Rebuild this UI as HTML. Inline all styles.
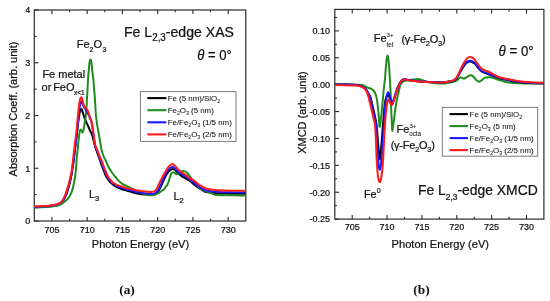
<!DOCTYPE html><html><head><meta charset="utf-8"><style>html,body{margin:0;padding:0;background:#fff;}svg{display:block;}</style></head><body><svg width="550" height="301" viewBox="0 0 550 301" font-family="'Liberation Sans', Arial, sans-serif" fill="#111111"><style>text{stroke:#111111;stroke-width:0.22px;}</style><rect width="550" height="301" fill="#fff"/><path d="M51.92 221.00 V217.00 M51.92 10.00 V14.00" stroke="#2a2a2a" stroke-width="1.1" fill="none"/><path d="M87.17 221.00 V217.00 M87.17 10.00 V14.00" stroke="#2a2a2a" stroke-width="1.1" fill="none"/><path d="M122.42 221.00 V217.00 M122.42 10.00 V14.00" stroke="#2a2a2a" stroke-width="1.1" fill="none"/><path d="M157.68 221.00 V217.00 M157.68 10.00 V14.00" stroke="#2a2a2a" stroke-width="1.1" fill="none"/><path d="M192.93 221.00 V217.00 M192.93 10.00 V14.00" stroke="#2a2a2a" stroke-width="1.1" fill="none"/><path d="M228.18 221.00 V217.00 M228.18 10.00 V14.00" stroke="#2a2a2a" stroke-width="1.1" fill="none"/><path d="M69.55 221.00 V218.70 M69.55 10.00 V12.30" stroke="#2a2a2a" stroke-width="1.1" fill="none"/><path d="M104.80 221.00 V218.70 M104.80 10.00 V12.30" stroke="#2a2a2a" stroke-width="1.1" fill="none"/><path d="M140.05 221.00 V218.70 M140.05 10.00 V12.30" stroke="#2a2a2a" stroke-width="1.1" fill="none"/><path d="M175.30 221.00 V218.70 M175.30 10.00 V12.30" stroke="#2a2a2a" stroke-width="1.1" fill="none"/><path d="M210.55 221.00 V218.70 M210.55 10.00 V12.30" stroke="#2a2a2a" stroke-width="1.1" fill="none"/><path d="M34.30 221.00 H38.50" stroke="#2a2a2a" stroke-width="1.1"/><path d="M34.30 168.25 H38.50" stroke="#2a2a2a" stroke-width="1.1"/><path d="M34.30 115.50 H38.50" stroke="#2a2a2a" stroke-width="1.1"/><path d="M34.30 62.75 H38.50" stroke="#2a2a2a" stroke-width="1.1"/><path d="M34.30 10.00 H38.50" stroke="#2a2a2a" stroke-width="1.1"/><path d="M34.30 194.62 H36.60" stroke="#2a2a2a" stroke-width="1.1"/><path d="M34.30 141.88 H36.60" stroke="#2a2a2a" stroke-width="1.1"/><path d="M34.30 89.12 H36.60" stroke="#2a2a2a" stroke-width="1.1"/><path d="M34.30 36.38 H36.60" stroke="#2a2a2a" stroke-width="1.1"/><rect x="34.30" y="10.00" width="211.50" height="211.00" fill="none" stroke="#2a2a2a" stroke-width="1.2"/><text x="51.92" y="232.60" font-size="9" text-anchor="middle">705</text><text x="87.17" y="232.60" font-size="9" text-anchor="middle">710</text><text x="122.42" y="232.60" font-size="9" text-anchor="middle">715</text><text x="157.68" y="232.60" font-size="9" text-anchor="middle">720</text><text x="192.93" y="232.60" font-size="9" text-anchor="middle">725</text><text x="228.18" y="232.60" font-size="9" text-anchor="middle">730</text><text x="30.20" y="224.30" font-size="9" text-anchor="end">0</text><text x="30.20" y="171.55" font-size="9" text-anchor="end">1</text><text x="30.20" y="118.80" font-size="9" text-anchor="end">2</text><text x="30.20" y="66.05" font-size="9" text-anchor="end">3</text><text x="30.20" y="13.30" font-size="9" text-anchor="end">4</text><path d="M352.23 219.10 V215.10 M352.23 9.40 V13.40" stroke="#2a2a2a" stroke-width="1.1" fill="none"/><path d="M387.07 219.10 V215.10 M387.07 9.40 V13.40" stroke="#2a2a2a" stroke-width="1.1" fill="none"/><path d="M421.93 219.10 V215.10 M421.93 9.40 V13.40" stroke="#2a2a2a" stroke-width="1.1" fill="none"/><path d="M456.77 219.10 V215.10 M456.77 9.40 V13.40" stroke="#2a2a2a" stroke-width="1.1" fill="none"/><path d="M491.62 219.10 V215.10 M491.62 9.40 V13.40" stroke="#2a2a2a" stroke-width="1.1" fill="none"/><path d="M526.48 219.10 V215.10 M526.48 9.40 V13.40" stroke="#2a2a2a" stroke-width="1.1" fill="none"/><path d="M369.65 219.10 V216.80 M369.65 9.40 V11.70" stroke="#2a2a2a" stroke-width="1.1" fill="none"/><path d="M404.50 219.10 V216.80 M404.50 9.40 V11.70" stroke="#2a2a2a" stroke-width="1.1" fill="none"/><path d="M439.35 219.10 V216.80 M439.35 9.40 V11.70" stroke="#2a2a2a" stroke-width="1.1" fill="none"/><path d="M474.20 219.10 V216.80 M474.20 9.40 V11.70" stroke="#2a2a2a" stroke-width="1.1" fill="none"/><path d="M509.05 219.10 V216.80 M509.05 9.40 V11.70" stroke="#2a2a2a" stroke-width="1.1" fill="none"/><path d="M334.80 219.10 H339.00" stroke="#2a2a2a" stroke-width="1.1"/><path d="M334.80 192.22 H339.00" stroke="#2a2a2a" stroke-width="1.1"/><path d="M334.80 165.33 H339.00" stroke="#2a2a2a" stroke-width="1.1"/><path d="M334.80 138.45 H339.00" stroke="#2a2a2a" stroke-width="1.1"/><path d="M334.80 111.56 H339.00" stroke="#2a2a2a" stroke-width="1.1"/><path d="M334.80 84.68 H339.00" stroke="#2a2a2a" stroke-width="1.1"/><path d="M334.80 57.79 H339.00" stroke="#2a2a2a" stroke-width="1.1"/><path d="M334.80 30.91 H339.00" stroke="#2a2a2a" stroke-width="1.1"/><path d="M334.80 205.66 H337.10" stroke="#2a2a2a" stroke-width="1.1"/><path d="M334.80 178.77 H337.10" stroke="#2a2a2a" stroke-width="1.1"/><path d="M334.80 151.89 H337.10" stroke="#2a2a2a" stroke-width="1.1"/><path d="M334.80 125.00 H337.10" stroke="#2a2a2a" stroke-width="1.1"/><path d="M334.80 98.12 H337.10" stroke="#2a2a2a" stroke-width="1.1"/><path d="M334.80 71.23 H337.10" stroke="#2a2a2a" stroke-width="1.1"/><path d="M334.80 44.35 H337.10" stroke="#2a2a2a" stroke-width="1.1"/><path d="M334.80 17.47 H337.10" stroke="#2a2a2a" stroke-width="1.1"/><rect x="334.80" y="9.40" width="209.10" height="209.70" fill="none" stroke="#2a2a2a" stroke-width="1.2"/><text x="352.23" y="230.20" font-size="9" text-anchor="middle">705</text><text x="387.07" y="230.20" font-size="9" text-anchor="middle">710</text><text x="421.93" y="230.20" font-size="9" text-anchor="middle">715</text><text x="456.77" y="230.20" font-size="9" text-anchor="middle">720</text><text x="491.62" y="230.20" font-size="9" text-anchor="middle">725</text><text x="526.48" y="230.20" font-size="9" text-anchor="middle">730</text><text x="330.00" y="222.40" font-size="9" text-anchor="end">-0.25</text><text x="330.00" y="195.52" font-size="9" text-anchor="end">-0.20</text><text x="330.00" y="168.63" font-size="9" text-anchor="end">-0.15</text><text x="330.00" y="141.75" font-size="9" text-anchor="end">-0.10</text><text x="330.00" y="114.86" font-size="9" text-anchor="end">-0.05</text><text x="330.00" y="87.98" font-size="9" text-anchor="end">0.00</text><text x="330.00" y="61.09" font-size="9" text-anchor="end">0.05</text><text x="330.00" y="34.21" font-size="9" text-anchor="end">0.10</text><text x="140.5" y="247.7" font-size="11.1" text-anchor="middle">Photon Energy (eV)</text><text x="440.3" y="247.7" font-size="11.1" text-anchor="middle">Photon Energy (eV)</text><text transform="translate(16.5,109) rotate(-90)" font-size="11" text-anchor="middle">Absorption Coeff. (arb. unit)</text><text transform="translate(306.3,112.6) rotate(-90)" font-size="11" text-anchor="middle">XMCD (arb. unit)</text><defs><clipPath id="cl"><rect x="34.30" y="10.00" width="211.50" height="211.00"/></clipPath><clipPath id="cr"><rect x="334.80" y="9.40" width="209.10" height="209.70"/></clipPath></defs><path d="M34.50 207.30 C36.83 207.18 45.08 206.92 48.50 206.60 C51.92 206.28 53.42 205.73 55.00 205.40 C56.58 205.07 57.00 205.02 58.00 204.60 C59.00 204.18 60.12 203.62 61.00 202.90 C61.88 202.18 62.57 201.40 63.30 200.30 C64.03 199.20 64.80 197.58 65.40 196.30 C66.00 195.02 66.43 193.93 66.90 192.60 C67.37 191.27 67.77 189.77 68.20 188.30 C68.63 186.83 69.08 185.38 69.50 183.80 C69.92 182.22 70.32 180.55 70.70 178.80 C71.08 177.05 71.45 175.38 71.80 173.30 C72.15 171.22 72.48 168.47 72.80 166.30 C73.12 164.13 73.30 163.35 73.70 160.30 C74.10 157.25 74.65 152.55 75.20 148.00 C75.75 143.45 76.45 137.67 77.00 133.00 C77.55 128.33 78.03 123.50 78.50 120.00 C78.97 116.50 79.45 113.67 79.80 112.00 C80.15 110.33 80.35 110.50 80.60 110.00 C80.85 109.50 81.02 108.87 81.30 109.00 C81.58 109.13 81.85 109.55 82.30 110.80 C82.75 112.05 83.38 114.72 84.00 116.50 C84.62 118.28 85.25 119.75 86.00 121.50 C86.75 123.25 87.75 125.33 88.50 127.00 C89.25 128.67 89.87 130.08 90.50 131.50 C91.13 132.92 91.55 133.08 92.30 135.50 C93.05 137.92 94.22 143.28 95.00 146.00 C95.78 148.72 96.22 149.55 97.00 151.80 C97.78 154.05 99.03 157.55 99.70 159.50 C100.37 161.45 100.50 162.07 101.00 163.50 C101.50 164.93 102.12 166.60 102.70 168.10 C103.28 169.60 103.93 171.13 104.50 172.50 C105.07 173.87 105.52 175.18 106.10 176.30 C106.68 177.42 107.42 178.33 108.00 179.20 C108.58 180.07 108.93 180.73 109.60 181.50 C110.27 182.27 111.22 183.12 112.00 183.80 C112.78 184.48 113.47 185.05 114.30 185.60 C115.13 186.15 116.03 186.62 117.00 187.10 C117.97 187.58 118.93 188.03 120.10 188.50 C121.27 188.97 122.68 189.48 124.00 189.90 C125.32 190.32 126.75 190.65 128.00 191.00 C129.25 191.35 130.33 191.67 131.50 192.00 C132.67 192.33 133.58 192.68 135.00 193.00 C136.42 193.32 138.50 193.67 140.00 193.90 C141.50 194.13 142.67 194.27 144.00 194.40 C145.33 194.53 146.92 194.62 148.00 194.70 C149.08 194.78 149.67 194.90 150.50 194.90 C151.33 194.90 152.17 194.87 153.00 194.70 C153.83 194.53 154.75 194.30 155.50 193.90 C156.25 193.50 156.87 193.02 157.50 192.30 C158.13 191.58 158.72 190.62 159.30 189.60 C159.88 188.58 160.47 187.33 161.00 186.20 C161.53 185.07 162.08 183.75 162.50 182.80 C162.92 181.85 162.92 181.70 163.50 180.50 C164.08 179.30 165.25 176.97 166.00 175.60 C166.75 174.23 167.33 173.20 168.00 172.30 C168.67 171.40 169.18 170.75 170.00 170.20 C170.82 169.65 172.10 169.07 172.90 169.00 C173.70 168.93 174.18 169.37 174.80 169.80 C175.42 170.23 175.90 170.90 176.60 171.60 C177.30 172.30 178.12 173.22 179.00 174.00 C179.88 174.78 180.97 175.67 181.90 176.30 C182.83 176.93 183.75 177.32 184.60 177.80 C185.45 178.28 186.12 178.68 187.00 179.20 C187.88 179.72 188.73 180.02 189.90 180.90 C191.07 181.78 192.65 183.40 194.00 184.50 C195.35 185.60 196.67 186.58 198.00 187.50 C199.33 188.42 200.67 189.25 202.00 190.00 C203.33 190.75 203.83 191.48 206.00 192.00 C208.17 192.52 211.00 192.82 215.00 193.10 C219.00 193.38 224.83 193.58 230.00 193.70 C235.17 193.82 243.33 193.78 246.00 193.80" fill="none" stroke="#000000" stroke-width="2.00" stroke-linejoin="round" stroke-linecap="round" clip-path="url(#cl)"/><path d="M34.50 207.50 C36.83 207.38 44.58 207.15 48.50 206.80 C52.42 206.45 55.92 205.83 58.00 205.40 C60.08 204.97 60.12 204.67 61.00 204.20 C61.88 203.73 62.47 203.20 63.30 202.60 C64.13 202.00 65.12 201.38 66.00 200.60 C66.88 199.82 67.85 198.92 68.60 197.90 C69.35 196.88 69.95 195.60 70.50 194.50 C71.05 193.40 71.48 192.47 71.90 191.30 C72.32 190.13 72.67 188.83 73.00 187.50 C73.33 186.17 73.57 185.05 73.90 183.30 C74.23 181.55 74.67 179.22 75.00 177.00 C75.33 174.78 75.63 172.83 75.90 170.00 C76.17 167.17 76.32 163.33 76.60 160.00 C76.88 156.67 77.27 153.33 77.60 150.00 C77.93 146.67 78.27 143.00 78.60 140.00 C78.93 137.00 79.27 133.75 79.60 132.00 C79.93 130.25 80.27 129.70 80.60 129.50 C80.93 129.30 81.27 130.30 81.60 130.80 C81.93 131.30 82.27 132.63 82.60 132.50 C82.93 132.37 83.28 131.42 83.60 130.00 C83.92 128.58 84.15 126.17 84.50 124.00 C84.85 121.83 85.35 120.17 85.70 117.00 C86.05 113.83 86.32 109.17 86.60 105.00 C86.88 100.83 87.17 96.17 87.40 92.00 C87.63 87.83 87.77 83.67 88.00 80.00 C88.23 76.33 88.53 73.00 88.80 70.00 C89.07 67.00 89.32 63.75 89.60 62.00 C89.88 60.25 90.20 59.50 90.50 59.50 C90.80 59.50 91.12 60.25 91.40 62.00 C91.68 63.75 91.87 67.00 92.20 70.00 C92.53 73.00 93.07 76.67 93.40 80.00 C93.73 83.33 93.93 86.67 94.20 90.00 C94.47 93.33 94.75 96.33 95.00 100.00 C95.25 103.67 95.45 108.67 95.70 112.00 C95.95 115.33 96.20 117.50 96.50 120.00 C96.80 122.50 97.08 124.50 97.50 127.00 C97.92 129.50 98.55 132.50 99.00 135.00 C99.45 137.50 99.77 139.50 100.20 142.00 C100.63 144.50 101.05 147.67 101.60 150.00 C102.15 152.33 102.83 154.28 103.50 156.00 C104.17 157.72 104.77 158.47 105.60 160.30 C106.43 162.13 107.63 165.25 108.50 167.00 C109.37 168.75 110.03 169.63 110.80 170.80 C111.57 171.97 112.32 172.97 113.10 174.00 C113.88 175.03 114.72 176.03 115.50 177.00 C116.28 177.97 117.05 178.97 117.80 179.80 C118.55 180.63 119.23 181.33 120.00 182.00 C120.77 182.67 121.57 183.27 122.40 183.80 C123.23 184.33 124.07 184.73 125.00 185.20 C125.93 185.67 126.83 186.03 128.00 186.60 C129.17 187.17 130.67 187.92 132.00 188.60 C133.33 189.28 134.67 190.05 136.00 190.70 C137.33 191.35 138.67 191.97 140.00 192.50 C141.33 193.03 142.83 193.52 144.00 193.90 C145.17 194.28 146.00 194.57 147.00 194.80 C148.00 195.03 149.08 195.22 150.00 195.30 C150.92 195.38 151.72 195.38 152.50 195.30 C153.28 195.22 153.95 195.03 154.70 194.80 C155.45 194.57 156.30 194.23 157.00 193.90 C157.70 193.57 158.28 193.18 158.90 192.80 C159.52 192.42 160.10 192.02 160.70 191.60 C161.30 191.18 161.80 190.83 162.50 190.30 C163.20 189.77 164.40 188.98 164.90 188.40 C165.40 187.82 165.10 187.38 165.50 186.80 C165.90 186.22 166.75 185.87 167.30 184.90 C167.85 183.93 168.35 182.32 168.80 181.00 C169.25 179.68 169.58 178.23 170.00 177.00 C170.42 175.77 170.75 174.38 171.30 173.60 C171.85 172.82 172.68 172.37 173.30 172.30 C173.92 172.23 174.45 172.87 175.00 173.20 C175.55 173.53 176.00 174.23 176.60 174.30 C177.20 174.37 177.87 173.98 178.60 173.60 C179.33 173.22 180.23 172.43 181.00 172.00 C181.77 171.57 182.53 171.10 183.20 171.00 C183.87 170.90 184.45 171.18 185.00 171.40 C185.55 171.62 185.92 171.78 186.50 172.30 C187.08 172.82 187.93 173.83 188.50 174.50 C189.07 175.17 189.32 175.38 189.90 176.30 C190.48 177.22 190.98 178.63 192.00 180.00 C193.02 181.37 194.67 183.08 196.00 184.50 C197.33 185.92 198.50 187.42 200.00 188.50 C201.50 189.58 203.33 190.33 205.00 191.00 C206.67 191.67 208.33 191.88 210.00 192.50 C211.67 193.12 211.67 194.25 215.00 194.70 C218.33 195.15 224.83 195.08 230.00 195.20 C235.17 195.32 243.33 195.37 246.00 195.40" fill="none" stroke="#1e8c1e" stroke-width="2.00" stroke-linejoin="round" stroke-linecap="round" clip-path="url(#cl)"/><path d="M34.50 206.80 C36.83 206.67 45.08 206.30 48.50 206.00 C51.92 205.70 53.42 205.28 55.00 205.00 C56.58 204.72 57.00 204.70 58.00 204.30 C59.00 203.90 60.13 203.32 61.00 202.60 C61.87 201.88 62.48 201.10 63.20 200.00 C63.92 198.90 64.70 197.28 65.30 196.00 C65.90 194.72 66.33 193.63 66.80 192.30 C67.27 190.97 67.67 189.47 68.10 188.00 C68.53 186.53 68.98 185.08 69.40 183.50 C69.82 181.92 70.22 180.25 70.60 178.50 C70.98 176.75 71.35 175.08 71.70 173.00 C72.05 170.92 72.38 168.17 72.70 166.00 C73.02 163.83 73.18 163.17 73.60 160.00 C74.02 156.83 74.60 152.00 75.20 147.00 C75.80 142.00 76.65 135.00 77.20 130.00 C77.75 125.00 78.08 120.83 78.50 117.00 C78.92 113.17 79.37 109.33 79.70 107.00 C80.03 104.67 80.25 103.92 80.50 103.00 C80.75 102.08 80.95 101.58 81.20 101.50 C81.45 101.42 81.60 101.75 82.00 102.50 C82.40 103.25 83.02 104.83 83.60 106.00 C84.18 107.17 84.85 108.42 85.50 109.50 C86.15 110.58 86.77 111.08 87.50 112.50 C88.23 113.92 89.15 116.00 89.90 118.00 C90.65 120.00 91.15 120.00 92.00 124.50 C92.85 129.00 94.17 140.63 95.00 145.00 C95.83 149.37 96.27 148.62 97.00 150.70 C97.73 152.78 98.73 155.65 99.40 157.50 C100.07 159.35 100.40 160.18 101.00 161.80 C101.60 163.42 102.33 165.53 103.00 167.20 C103.67 168.87 104.37 170.40 105.00 171.80 C105.63 173.20 106.20 174.47 106.80 175.60 C107.40 176.73 108.02 177.70 108.60 178.60 C109.18 179.50 109.65 180.27 110.30 181.00 C110.95 181.73 111.72 182.37 112.50 183.00 C113.28 183.63 114.08 184.25 115.00 184.80 C115.92 185.35 117.00 185.85 118.00 186.30 C119.00 186.75 119.83 187.08 121.00 187.50 C122.17 187.92 123.67 188.40 125.00 188.80 C126.33 189.20 127.83 189.57 129.00 189.90 C130.17 190.23 131.00 190.48 132.00 190.80 C133.00 191.12 133.67 191.50 135.00 191.80 C136.33 192.10 138.50 192.37 140.00 192.60 C141.50 192.83 142.67 193.02 144.00 193.20 C145.33 193.38 146.72 193.58 148.00 193.70 C149.28 193.82 150.70 193.92 151.70 193.90 C152.70 193.88 153.30 193.78 154.00 193.60 C154.70 193.42 155.32 193.20 155.90 192.80 C156.48 192.40 157.00 191.83 157.50 191.20 C158.00 190.57 158.43 189.90 158.90 189.00 C159.37 188.10 159.82 186.92 160.30 185.80 C160.78 184.68 161.30 183.47 161.80 182.30 C162.30 181.13 162.60 180.25 163.30 178.80 C164.00 177.35 165.22 175.03 166.00 173.60 C166.78 172.17 167.33 171.13 168.00 170.20 C168.67 169.27 169.23 168.53 170.00 168.00 C170.77 167.47 171.85 167.00 172.60 167.00 C173.35 167.00 173.83 167.45 174.50 168.00 C175.17 168.55 175.85 169.55 176.60 170.30 C177.35 171.05 178.12 171.83 179.00 172.50 C179.88 173.17 180.97 173.75 181.90 174.30 C182.83 174.85 183.75 175.27 184.60 175.80 C185.45 176.33 186.12 176.87 187.00 177.50 C187.88 178.13 188.73 178.77 189.90 179.60 C191.07 180.43 192.65 181.43 194.00 182.50 C195.35 183.57 196.67 185.00 198.00 186.00 C199.33 187.00 200.67 187.75 202.00 188.50 C203.33 189.25 203.83 189.95 206.00 190.50 C208.17 191.05 211.00 191.50 215.00 191.80 C219.00 192.10 224.83 192.20 230.00 192.30 C235.17 192.40 243.33 192.38 246.00 192.40" fill="none" stroke="#1a1aff" stroke-width="2.00" stroke-linejoin="round" stroke-linecap="round" clip-path="url(#cl)"/><path d="M34.50 206.60 C35.58 206.53 38.67 206.33 41.00 206.20 C43.33 206.07 46.17 206.03 48.50 205.80 C50.83 205.57 53.42 205.12 55.00 204.80 C56.58 204.48 57.08 204.27 58.00 203.90 C58.92 203.53 59.75 203.17 60.50 202.60 C61.25 202.03 61.82 201.50 62.50 200.50 C63.18 199.50 64.02 197.88 64.60 196.60 C65.18 195.32 65.55 194.13 66.00 192.80 C66.45 191.47 66.85 190.07 67.30 188.60 C67.75 187.13 68.27 185.55 68.70 184.00 C69.13 182.45 69.52 180.88 69.90 179.30 C70.28 177.72 70.67 176.05 71.00 174.50 C71.33 172.95 71.58 172.25 71.90 170.00 C72.22 167.75 72.47 164.83 72.90 161.00 C73.33 157.17 73.88 152.17 74.50 147.00 C75.12 141.83 76.05 135.00 76.60 130.00 C77.15 125.00 77.40 121.00 77.80 117.00 C78.20 113.00 78.63 108.92 79.00 106.00 C79.37 103.08 79.67 100.95 80.00 99.50 C80.33 98.05 80.67 97.47 81.00 97.30 C81.33 97.13 81.57 97.30 82.00 98.50 C82.43 99.70 83.10 103.00 83.60 104.50 C84.10 106.00 84.52 106.75 85.00 107.50 C85.48 108.25 86.00 108.33 86.50 109.00 C87.00 109.67 87.43 110.17 88.00 111.50 C88.57 112.83 89.23 115.00 89.90 117.00 C90.57 119.00 91.15 119.00 92.00 123.50 C92.85 128.00 94.17 139.67 95.00 144.00 C95.83 148.33 96.33 147.67 97.00 149.50 C97.67 151.33 98.25 153.17 99.00 155.00 C99.75 156.83 100.70 158.53 101.50 160.50 C102.30 162.47 103.13 165.02 103.80 166.80 C104.47 168.58 104.92 169.78 105.50 171.20 C106.08 172.62 106.72 174.12 107.30 175.30 C107.88 176.48 108.38 177.38 109.00 178.30 C109.62 179.22 110.33 180.08 111.00 180.80 C111.67 181.52 112.27 182.07 113.00 182.60 C113.73 183.13 114.57 183.53 115.40 184.00 C116.23 184.47 116.90 184.93 118.00 185.40 C119.10 185.87 120.75 186.40 122.00 186.80 C123.25 187.20 124.33 187.50 125.50 187.80 C126.67 188.10 127.75 188.30 129.00 188.60 C130.25 188.90 131.67 189.30 133.00 189.60 C134.33 189.90 135.75 190.18 137.00 190.40 C138.25 190.62 139.33 190.75 140.50 190.90 C141.67 191.05 142.75 191.17 144.00 191.30 C145.25 191.43 146.72 191.60 148.00 191.70 C149.28 191.80 150.78 191.92 151.70 191.90 C152.62 191.88 153.00 191.75 153.50 191.60 C154.00 191.45 154.28 191.30 154.70 191.00 C155.12 190.70 155.60 190.30 156.00 189.80 C156.40 189.30 156.68 188.77 157.10 188.00 C157.52 187.23 157.97 186.32 158.50 185.20 C159.03 184.08 159.75 182.45 160.30 181.30 C160.85 180.15 161.30 179.28 161.80 178.30 C162.30 177.32 162.60 176.62 163.30 175.40 C164.00 174.18 165.22 172.30 166.00 171.00 C166.78 169.70 167.33 168.57 168.00 167.60 C168.67 166.63 169.23 165.77 170.00 165.20 C170.77 164.63 171.85 164.18 172.60 164.20 C173.35 164.22 173.83 164.73 174.50 165.30 C175.17 165.87 175.92 166.85 176.60 167.60 C177.28 168.35 177.93 169.13 178.60 169.80 C179.27 170.47 179.93 171.07 180.60 171.60 C181.27 172.13 181.93 172.55 182.60 173.00 C183.27 173.45 183.87 173.80 184.60 174.30 C185.33 174.80 186.12 175.33 187.00 176.00 C187.88 176.67 188.73 177.55 189.90 178.30 C191.07 179.05 192.65 179.55 194.00 180.50 C195.35 181.45 196.67 183.00 198.00 184.00 C199.33 185.00 200.67 185.75 202.00 186.50 C203.33 187.25 203.83 187.90 206.00 188.50 C208.17 189.10 211.00 189.73 215.00 190.10 C219.00 190.47 224.83 190.58 230.00 190.70 C235.17 190.82 243.33 190.78 246.00 190.80" fill="none" stroke="#ff1a1a" stroke-width="2.00" stroke-linejoin="round" stroke-linecap="round" clip-path="url(#cl)"/><path d="M335.00 84.40 C337.83 84.43 348.17 84.53 352.00 84.60 C355.83 84.67 356.33 84.72 358.00 84.80 C359.67 84.88 361.00 84.97 362.00 85.10 C363.00 85.23 363.33 85.32 364.00 85.60 C364.67 85.88 365.33 86.43 366.00 86.80 C366.67 87.17 367.33 87.57 368.00 87.80 C368.67 88.03 369.33 87.95 370.00 88.20 C370.67 88.45 371.42 88.92 372.00 89.30 C372.58 89.68 373.03 89.97 373.50 90.50 C373.97 91.03 374.38 91.67 374.80 92.50 C375.22 93.33 375.63 94.25 376.00 95.50 C376.37 96.75 376.67 97.92 377.00 100.00 C377.33 102.08 377.68 104.83 378.00 108.00 C378.32 111.17 378.63 115.87 378.90 119.00 C379.17 122.13 379.33 126.30 379.60 126.80 C379.87 127.30 380.23 123.80 380.50 122.00 C380.77 120.20 380.97 118.00 381.20 116.00 C381.43 114.00 381.65 112.50 381.90 110.00 C382.15 107.50 382.43 104.00 382.70 101.00 C382.97 98.00 383.22 94.83 383.50 92.00 C383.78 89.17 384.12 86.67 384.40 84.00 C384.68 81.33 384.95 78.83 385.20 76.00 C385.45 73.17 385.67 69.75 385.90 67.00 C386.13 64.25 386.35 61.40 386.60 59.50 C386.85 57.60 387.13 55.88 387.40 55.60 C387.67 55.32 387.93 56.23 388.20 57.80 C388.47 59.37 388.77 62.13 389.00 65.00 C389.23 67.87 389.40 71.83 389.60 75.00 C389.80 78.17 390.03 81.00 390.20 84.00 C390.37 87.00 390.47 89.67 390.60 93.00 C390.73 96.33 390.85 100.17 391.00 104.00 C391.15 107.83 391.35 112.67 391.50 116.00 C391.65 119.33 391.77 121.53 391.90 124.00 C392.03 126.47 392.08 130.47 392.30 130.80 C392.52 131.13 392.88 128.13 393.20 126.00 C393.52 123.87 393.87 120.67 394.20 118.00 C394.53 115.33 394.77 113.00 395.20 110.00 C395.63 107.00 396.27 102.83 396.80 100.00 C397.33 97.17 397.78 95.58 398.40 93.00 C399.02 90.42 399.82 86.33 400.50 84.50 C401.18 82.67 401.75 82.60 402.50 82.00 C403.25 81.40 403.92 81.18 405.00 80.90 C406.08 80.62 407.67 80.52 409.00 80.30 C410.33 80.08 411.55 79.80 413.00 79.60 C414.45 79.40 416.37 79.10 417.70 79.10 C419.03 79.10 419.78 79.28 421.00 79.60 C422.22 79.92 423.50 80.52 425.00 81.00 C426.50 81.48 428.17 82.12 430.00 82.50 C431.83 82.88 434.25 83.12 436.00 83.30 C437.75 83.48 439.00 83.58 440.50 83.60 C442.00 83.62 443.58 83.53 445.00 83.40 C446.42 83.27 447.67 83.07 449.00 82.80 C450.33 82.53 451.90 82.07 453.00 81.80 C454.10 81.53 454.85 81.53 455.60 81.20 C456.35 80.87 456.83 80.35 457.50 79.80 C458.17 79.25 458.93 78.27 459.60 77.90 C460.27 77.53 460.83 77.50 461.50 77.60 C462.17 77.70 462.93 78.43 463.60 78.50 C464.27 78.57 464.83 78.32 465.50 78.00 C466.17 77.68 466.93 77.00 467.60 76.60 C468.27 76.20 468.83 75.83 469.50 75.60 C470.17 75.37 470.97 75.05 471.60 75.20 C472.23 75.35 472.73 75.95 473.30 76.50 C473.87 77.05 474.47 77.87 475.00 78.50 C475.53 79.13 475.90 79.78 476.50 80.30 C477.10 80.82 477.93 81.45 478.60 81.60 C479.27 81.75 479.93 81.48 480.50 81.20 C481.07 80.92 481.45 80.35 482.00 79.90 C482.55 79.45 483.25 78.88 483.80 78.50 C484.35 78.12 484.27 77.82 485.30 77.60 C486.33 77.38 488.63 77.13 490.00 77.20 C491.37 77.27 492.40 77.67 493.50 78.00 C494.60 78.33 495.52 78.83 496.60 79.20 C497.68 79.57 498.90 79.87 500.00 80.20 C501.10 80.53 502.03 80.88 503.20 81.20 C504.37 81.52 505.87 81.87 507.00 82.10 C508.13 82.33 508.33 82.40 510.00 82.60 C511.67 82.80 513.67 83.15 517.00 83.30 C520.33 83.45 525.50 83.47 530.00 83.50 C534.50 83.53 541.67 83.50 544.00 83.50" fill="none" stroke="#1e8c1e" stroke-width="2.00" stroke-linejoin="round" stroke-linecap="round" clip-path="url(#cr)"/><path d="M335.00 84.50 C336.67 84.52 342.17 84.55 345.00 84.60 C347.83 84.65 350.17 84.72 352.00 84.80 C353.83 84.88 354.83 84.97 356.00 85.10 C357.17 85.23 358.17 85.42 359.00 85.60 C359.83 85.78 360.33 85.95 361.00 86.20 C361.67 86.45 362.33 86.72 363.00 87.10 C363.67 87.48 364.42 87.98 365.00 88.50 C365.58 89.02 366.00 89.48 366.50 90.20 C367.00 90.92 367.33 91.58 368.00 92.80 C368.67 94.02 369.83 95.72 370.50 97.50 C371.17 99.28 371.50 101.42 372.00 103.50 C372.50 105.58 372.95 107.58 373.50 110.00 C374.05 112.42 374.75 115.17 375.30 118.00 C375.85 120.83 376.38 123.33 376.80 127.00 C377.22 130.67 377.48 136.17 377.80 140.00 C378.12 143.83 378.45 147.33 378.70 150.00 C378.95 152.67 379.12 154.45 379.30 156.00 C379.48 157.55 379.63 159.30 379.80 159.30 C379.97 159.30 380.10 157.55 380.30 156.00 C380.50 154.45 380.75 152.67 381.00 150.00 C381.25 147.33 381.52 143.67 381.80 140.00 C382.08 136.33 382.40 131.83 382.70 128.00 C383.00 124.17 383.30 120.50 383.60 117.00 C383.90 113.50 384.18 109.83 384.50 107.00 C384.82 104.17 385.15 101.75 385.50 100.00 C385.85 98.25 386.25 97.25 386.60 96.50 C386.95 95.75 387.32 95.67 387.60 95.50 C387.88 95.33 388.03 95.28 388.30 95.50 C388.57 95.72 388.85 96.05 389.20 96.80 C389.55 97.55 390.00 98.88 390.40 100.00 C390.80 101.12 391.27 102.92 391.60 103.50 C391.93 104.08 392.08 103.92 392.40 103.50 C392.72 103.08 392.98 102.50 393.50 101.00 C394.02 99.50 394.83 96.58 395.50 94.50 C396.17 92.42 396.83 90.28 397.50 88.50 C398.17 86.72 398.92 85.00 399.50 83.80 C400.08 82.60 400.50 81.95 401.00 81.30 C401.50 80.65 401.97 80.22 402.50 79.90 C403.03 79.58 403.62 79.43 404.20 79.40 C404.78 79.37 405.03 79.53 406.00 79.70 C406.97 79.87 408.80 80.22 410.00 80.40 C411.20 80.58 411.15 80.58 413.20 80.80 C415.25 81.02 419.27 81.48 422.30 81.70 C425.33 81.92 428.45 82.00 431.40 82.10 C434.35 82.20 437.73 82.28 440.00 82.30 C442.27 82.32 443.50 82.32 445.00 82.20 C446.50 82.08 447.67 81.82 449.00 81.60 C450.33 81.38 451.92 81.25 453.00 80.90 C454.08 80.55 454.83 80.03 455.50 79.50 C456.17 78.97 456.50 78.40 457.00 77.70 C457.50 77.00 458.00 76.18 458.50 75.30 C459.00 74.42 459.42 73.45 460.00 72.40 C460.58 71.35 461.33 70.10 462.00 69.00 C462.67 67.90 463.33 66.75 464.00 65.80 C464.67 64.85 465.33 63.93 466.00 63.30 C466.67 62.67 467.25 62.28 468.00 62.00 C468.75 61.72 469.75 61.55 470.50 61.60 C471.25 61.65 471.70 61.90 472.50 62.30 C473.30 62.70 474.38 63.10 475.30 64.00 C476.22 64.90 477.12 66.60 478.00 67.70 C478.88 68.80 479.77 69.85 480.60 70.60 C481.43 71.35 482.10 71.77 483.00 72.20 C483.90 72.63 484.83 72.75 486.00 73.20 C487.17 73.65 488.67 74.37 490.00 74.90 C491.33 75.43 492.50 75.88 494.00 76.40 C495.50 76.92 497.33 77.50 499.00 78.00 C500.67 78.50 502.17 78.97 504.00 79.40 C505.83 79.83 507.83 80.20 510.00 80.60 C512.17 81.00 513.67 81.42 517.00 81.80 C520.33 82.18 525.50 82.65 530.00 82.90 C534.50 83.15 541.67 83.23 544.00 83.30" fill="none" stroke="#000000" stroke-width="2.00" stroke-linejoin="round" stroke-linecap="round" clip-path="url(#cr)"/><path d="M335.00 84.40 C336.67 84.42 342.17 84.45 345.00 84.50 C347.83 84.55 350.17 84.62 352.00 84.70 C353.83 84.78 354.83 84.87 356.00 85.00 C357.17 85.13 358.17 85.32 359.00 85.50 C359.83 85.68 360.33 85.85 361.00 86.10 C361.67 86.35 362.33 86.63 363.00 87.00 C363.67 87.37 364.42 87.80 365.00 88.30 C365.58 88.80 366.00 89.30 366.50 90.00 C367.00 90.70 367.42 91.33 368.00 92.50 C368.58 93.67 369.42 95.20 370.00 97.00 C370.58 98.80 371.00 101.13 371.50 103.30 C372.00 105.47 372.45 107.55 373.00 110.00 C373.55 112.45 374.25 115.50 374.80 118.00 C375.35 120.50 375.88 121.33 376.30 125.00 C376.72 128.67 377.03 135.00 377.30 140.00 C377.57 145.00 377.68 151.00 377.90 155.00 C378.12 159.00 378.38 161.75 378.60 164.00 C378.82 166.25 379.00 167.53 379.20 168.50 C379.40 169.47 379.60 169.80 379.80 169.80 C380.00 169.80 380.20 169.47 380.40 168.50 C380.60 167.53 380.78 166.25 381.00 164.00 C381.22 161.75 381.45 158.17 381.70 155.00 C381.95 151.83 382.25 148.33 382.50 145.00 C382.75 141.67 382.95 138.83 383.20 135.00 C383.45 131.17 383.73 126.17 384.00 122.00 C384.27 117.83 384.52 113.33 384.80 110.00 C385.08 106.67 385.38 104.33 385.70 102.00 C386.02 99.67 386.38 97.53 386.70 96.00 C387.02 94.47 387.33 93.42 387.60 92.80 C387.87 92.18 388.03 92.10 388.30 92.30 C388.57 92.50 388.85 93.05 389.20 94.00 C389.55 94.95 390.00 96.62 390.40 98.00 C390.80 99.38 391.27 101.55 391.60 102.30 C391.93 103.05 392.08 102.88 392.40 102.50 C392.72 102.12 392.98 101.50 393.50 100.00 C394.02 98.50 394.83 95.50 395.50 93.50 C396.17 91.50 396.83 89.65 397.50 88.00 C398.17 86.35 398.92 84.73 399.50 83.60 C400.08 82.47 400.50 81.83 401.00 81.20 C401.50 80.57 401.97 80.12 402.50 79.80 C403.03 79.48 403.62 79.33 404.20 79.30 C404.78 79.27 405.03 79.43 406.00 79.60 C406.97 79.77 408.80 80.12 410.00 80.30 C411.20 80.48 411.15 80.48 413.20 80.70 C415.25 80.92 419.27 81.38 422.30 81.60 C425.33 81.82 428.45 81.90 431.40 82.00 C434.35 82.10 437.73 82.18 440.00 82.20 C442.27 82.22 443.50 82.22 445.00 82.10 C446.50 81.98 447.67 81.73 449.00 81.50 C450.33 81.27 451.92 81.08 453.00 80.70 C454.08 80.32 454.83 79.77 455.50 79.20 C456.17 78.63 456.50 78.03 457.00 77.30 C457.50 76.57 458.00 75.72 458.50 74.80 C459.00 73.88 459.42 72.88 460.00 71.80 C460.58 70.72 461.33 69.43 462.00 68.30 C462.67 67.17 463.33 65.97 464.00 65.00 C464.67 64.03 465.33 63.13 466.00 62.50 C466.67 61.87 467.25 61.48 468.00 61.20 C468.75 60.92 469.75 60.75 470.50 60.80 C471.25 60.85 471.70 61.08 472.50 61.50 C473.30 61.92 474.38 62.38 475.30 63.30 C476.22 64.22 477.12 65.88 478.00 67.00 C478.88 68.12 479.77 69.23 480.60 70.00 C481.43 70.77 482.10 71.17 483.00 71.60 C483.90 72.03 484.83 72.15 486.00 72.60 C487.17 73.05 488.67 73.75 490.00 74.30 C491.33 74.85 492.50 75.35 494.00 75.90 C495.50 76.45 497.33 77.08 499.00 77.60 C500.67 78.12 502.17 78.55 504.00 79.00 C505.83 79.45 507.83 79.88 510.00 80.30 C512.17 80.72 513.67 81.10 517.00 81.50 C520.33 81.90 525.50 82.42 530.00 82.70 C534.50 82.98 541.67 83.12 544.00 83.20" fill="none" stroke="#1a1aff" stroke-width="2.00" stroke-linejoin="round" stroke-linecap="round" clip-path="url(#cr)"/><path d="M335.00 85.00 C336.67 85.03 342.17 85.13 345.00 85.20 C347.83 85.27 350.17 85.33 352.00 85.40 C353.83 85.47 354.83 85.50 356.00 85.60 C357.17 85.70 358.17 85.85 359.00 86.00 C359.83 86.15 360.42 86.30 361.00 86.50 C361.58 86.70 362.00 86.92 362.50 87.20 C363.00 87.48 363.50 87.77 364.00 88.20 C364.50 88.63 365.00 89.08 365.50 89.80 C366.00 90.52 366.50 91.30 367.00 92.50 C367.50 93.70 368.00 95.20 368.50 97.00 C369.00 98.80 369.48 101.13 370.00 103.30 C370.52 105.47 371.03 107.63 371.60 110.00 C372.17 112.37 372.83 115.00 373.40 117.50 C373.97 120.00 374.58 121.25 375.00 125.00 C375.42 128.75 375.62 134.17 375.90 140.00 C376.18 145.83 376.38 154.17 376.70 160.00 C377.02 165.83 377.45 171.58 377.80 175.00 C378.15 178.42 378.48 179.28 378.80 180.50 C379.12 181.72 379.40 182.30 379.70 182.30 C380.00 182.30 380.30 181.55 380.60 180.50 C380.90 179.45 381.22 177.75 381.50 176.00 C381.78 174.25 382.03 172.67 382.30 170.00 C382.57 167.33 382.88 163.33 383.10 160.00 C383.32 156.67 383.43 153.33 383.60 150.00 C383.77 146.67 383.93 143.33 384.10 140.00 C384.27 136.67 384.40 133.33 384.60 130.00 C384.80 126.67 385.03 123.33 385.30 120.00 C385.57 116.67 385.92 112.67 386.20 110.00 C386.48 107.33 386.73 105.62 387.00 104.00 C387.27 102.38 387.55 101.00 387.80 100.30 C388.05 99.60 388.25 99.72 388.50 99.80 C388.75 99.88 388.97 100.18 389.30 100.80 C389.63 101.42 390.12 102.80 390.50 103.50 C390.88 104.20 391.27 104.83 391.60 105.00 C391.93 105.17 392.15 105.17 392.50 104.50 C392.85 103.83 393.20 102.58 393.70 101.00 C394.20 99.42 394.87 97.00 395.50 95.00 C396.13 93.00 396.83 90.80 397.50 89.00 C398.17 87.20 398.92 85.47 399.50 84.20 C400.08 82.93 400.50 82.10 401.00 81.40 C401.50 80.70 401.97 80.32 402.50 80.00 C403.03 79.68 403.62 79.53 404.20 79.50 C404.78 79.47 405.03 79.63 406.00 79.80 C406.97 79.97 408.80 80.32 410.00 80.50 C411.20 80.68 411.15 80.68 413.20 80.90 C415.25 81.12 419.27 81.58 422.30 81.80 C425.33 82.02 428.45 82.10 431.40 82.20 C434.35 82.30 437.73 82.38 440.00 82.40 C442.27 82.42 443.50 82.47 445.00 82.30 C446.50 82.13 447.67 81.70 449.00 81.40 C450.33 81.10 451.92 80.93 453.00 80.50 C454.08 80.07 454.83 79.45 455.50 78.80 C456.17 78.15 456.50 77.40 457.00 76.60 C457.50 75.80 458.00 75.02 458.50 74.00 C459.00 72.98 459.42 71.75 460.00 70.50 C460.58 69.25 461.33 67.78 462.00 66.50 C462.67 65.22 463.33 63.92 464.00 62.80 C464.67 61.68 465.33 60.68 466.00 59.80 C466.67 58.92 467.30 57.97 468.00 57.50 C468.70 57.03 469.53 56.98 470.20 57.00 C470.87 57.02 471.45 57.37 472.00 57.60 C472.55 57.83 472.95 57.90 473.50 58.40 C474.05 58.90 474.63 59.75 475.30 60.60 C475.97 61.45 476.83 62.60 477.50 63.50 C478.17 64.40 478.72 65.25 479.30 66.00 C479.88 66.75 480.45 67.45 481.00 68.00 C481.55 68.55 481.93 68.88 482.60 69.30 C483.27 69.72 484.22 70.17 485.00 70.50 C485.78 70.83 486.47 70.97 487.30 71.30 C488.13 71.63 489.12 72.07 490.00 72.50 C490.88 72.93 491.60 73.37 492.60 73.90 C493.60 74.43 494.90 75.15 496.00 75.70 C497.10 76.25 497.77 76.73 499.20 77.20 C500.63 77.67 502.80 78.13 504.60 78.50 C506.40 78.87 507.87 79.00 510.00 79.40 C512.13 79.80 514.07 80.43 517.40 80.90 C520.73 81.37 525.57 81.88 530.00 82.20 C534.43 82.52 541.67 82.70 544.00 82.80" fill="none" stroke="#ff1a1a" stroke-width="2.00" stroke-linejoin="round" stroke-linecap="round" clip-path="url(#cr)"/><rect x="140.40" y="91.60" width="95.60" height="49.80" fill="#fff" stroke="#7a7a7a" stroke-width="1"/><path d="M147.30 98.10 H166.40" stroke="#000000" stroke-width="2.1"/><text x="167.70" y="100.80" font-size="7.9" style="stroke-width:0.06px">Fe (5 nm)/SiO<tspan font-size="5.2" dy="2.3">2</tspan></text><path d="M147.30 110.20 H166.40" stroke="#1e8c1e" stroke-width="2.1"/><text x="167.70" y="112.90" font-size="7.9" style="stroke-width:0.06px">Fe<tspan font-size="5.2" dy="2.3">2</tspan><tspan dy="-2.3">O</tspan><tspan font-size="5.2" dy="2.3">3</tspan><tspan dy="-2.3"> (5 nm)</tspan></text><path d="M147.30 122.30 H166.40" stroke="#1a1aff" stroke-width="2.1"/><text x="167.70" y="125.00" font-size="7.9" style="stroke-width:0.06px">Fe/Fe<tspan font-size="5.2" dy="2.3">2</tspan><tspan dy="-2.3">O</tspan><tspan font-size="5.2" dy="2.3">3</tspan><tspan dy="-2.3"> (1/5 nm)</tspan></text><path d="M147.30 134.40 H166.40" stroke="#ff1a1a" stroke-width="2.1"/><text x="167.70" y="137.10" font-size="7.9" style="stroke-width:0.06px">Fe/Fe<tspan font-size="5.2" dy="2.3">2</tspan><tspan dy="-2.3">O</tspan><tspan font-size="5.2" dy="2.3">3</tspan><tspan dy="-2.3"> (2/5 nm)</tspan></text><rect x="442.30" y="107.40" width="95.40" height="48.80" fill="#fff" stroke="#7a7a7a" stroke-width="1"/><path d="M449.50 114.10 H468.00" stroke="#000000" stroke-width="2.1"/><text x="469.60" y="116.80" font-size="7.9" style="stroke-width:0.06px">Fe (5 nm)/SiO<tspan font-size="5.2" dy="2.3">2</tspan></text><path d="M449.50 126.10 H468.00" stroke="#1e8c1e" stroke-width="2.1"/><text x="469.60" y="128.80" font-size="7.9" style="stroke-width:0.06px">Fe<tspan font-size="5.2" dy="2.3">2</tspan><tspan dy="-2.3">O</tspan><tspan font-size="5.2" dy="2.3">3</tspan><tspan dy="-2.3"> (5 nm)</tspan></text><path d="M449.50 138.10 H468.00" stroke="#1a1aff" stroke-width="2.1"/><text x="469.60" y="140.80" font-size="7.9" style="stroke-width:0.06px">Fe/Fe<tspan font-size="5.2" dy="2.3">2</tspan><tspan dy="-2.3">O</tspan><tspan font-size="5.2" dy="2.3">3</tspan><tspan dy="-2.3"> (1/5 nm)</tspan></text><path d="M449.50 150.10 H468.00" stroke="#ff1a1a" stroke-width="2.1"/><text x="469.60" y="152.80" font-size="7.9" style="stroke-width:0.06px">Fe/Fe<tspan font-size="5.2" dy="2.3">2</tspan><tspan dy="-2.3">O</tspan><tspan font-size="5.2" dy="2.3">3</tspan><tspan dy="-2.3"> (2/5 nm)</tspan></text><text transform="translate(124.0,36.9) scale(1,1.06)" font-size="14.1">Fe L<tspan font-size="9.8" dy="3.7">2,3</tspan><tspan dy="-3.7">-edge XAS</tspan></text><text transform="translate(197.3,59.6) scale(1,1.09)" font-size="13.1"><tspan font-style="italic">θ</tspan> = 0°</text><text x="76.7" y="48.1" font-size="11">Fe<tspan font-size="7" dy="3.6">2</tspan><tspan dy="-3.6">O</tspan><tspan font-size="7" dy="3.6" dx="0.4">3</tspan></text><text x="42.4" y="77.7" font-size="11">Fe metal</text><text x="41.6" y="91" font-size="11" word-spacing="-1.3">or FeO<tspan font-size="6.6" dy="3.6" dx="-0.6">x&lt;1</tspan></text><text x="88.9" y="197.6" font-size="11">L<tspan font-size="7.5" dy="3.2">3</tspan></text><text x="173.4" y="199.8" font-size="11">L<tspan font-size="7.5" dy="3.2">2</tspan></text><text transform="translate(418.0,194.9) scale(1,1.06)" font-size="13.9">Fe L<tspan font-size="8.4" dy="4.8">2,3</tspan><tspan dy="-4.8">-edge XMCD</tspan></text><text transform="translate(498.6,55.8) scale(1,1.09)" font-size="13.3"><tspan font-style="italic">θ</tspan> = 0°</text><text x="373.7" y="42" font-size="11">Fe</text><text x="386.6" y="37.3" font-size="6.2" style="stroke-width:0.05px">3+</text><text x="386.5" y="46.8" font-size="6.3" style="stroke-width:0.05px">tet</text><text x="401.4" y="42.7" font-size="11" letter-spacing="-0.25">(γ-Fe<tspan font-size="7.5" dy="3.2">2</tspan><tspan dy="-3.2">O</tspan><tspan font-size="7.5" dy="3.2">3</tspan><tspan dy="-3.2">)</tspan></text><text x="396.6" y="132.6" font-size="11">Fe</text><text x="409.4" y="127.6" font-size="6.2" style="stroke-width:0.05px">3+</text><text x="409.2" y="136.3" font-size="6.3" style="stroke-width:0.05px">octa</text><text x="390.7" y="148.6" font-size="11" letter-spacing="-0.25">(γ-Fe<tspan font-size="7.5" dy="3.2">2</tspan><tspan dy="-3.2">O</tspan><tspan font-size="7.5" dy="3.2">3</tspan><tspan dy="-3.2">)</tspan></text><text x="363.9" y="197.8" font-size="10.8">Fe</text><text x="376.8" y="193.4" font-size="7">0</text><text x="127" y="294" font-size="13.4" font-weight="bold" text-anchor="middle" style="stroke-width:0" font-family="'Liberation Serif', serif">(a)</text><text x="421.5" y="294" font-size="13.4" font-weight="bold" text-anchor="middle" style="stroke-width:0" font-family="'Liberation Serif', serif">(b)</text></svg></body></html>
